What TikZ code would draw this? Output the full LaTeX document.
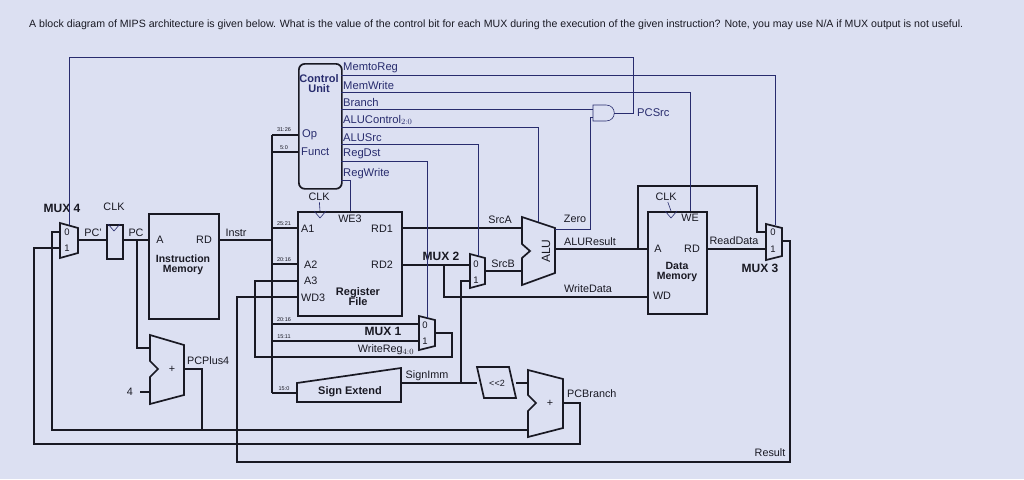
\documentclass[tikz,border=0pt]{standalone}
\usepackage{fontspec}
\setmainfont{Liberation Sans}
\usetikzlibrary{positioning}
\definecolor{paper}{RGB}{220,224,242}
\definecolor{ctrlc}{RGB}{40,44,110}
\definecolor{inkc}{RGB}{25,25,35}
\tikzset{
    bus/.style={line width=1.7pt,draw=inkc},
    ctl/.style={line width=0.6pt,draw=ctrlc},
    blk/.style={rectangle,draw=inkc,line width=1.7pt,inner sep=0pt},
    lbl/.style={font=\fontsize{10.8}{12}\selectfont,text=inkc,inner sep=1pt},
    clbl/.style={font=\fontsize{11.2}{12}\selectfont,text=ctrlc,inner sep=1pt},
    tag/.style={font=\fontsize{5.5}{6}\selectfont,text=inkc,inner sep=0.5pt},
    mux/.style={font=\bfseries\fontsize{12}{13}\selectfont,text=inkc,inner sep=1pt},
}
\begin{document}
\begin{tikzpicture}[x=1pt,y=-1pt]
  \fill[paper] (0,0) rectangle (1024,479);
  \useasboundingbox (0,0) rectangle (1024,479);
  \node[lbl,font=\fontsize{10.6}{12}\selectfont,anchor=west] (title) at (28,25) {A block diagram of MIPS architecture is given below. What is the value of the control bit for each MUX during the execution of the given instruction? Note, you may use N/A if MUX output is not useful.};

  % blocks
  \node[blk,rounded corners=6pt,minimum width=43,minimum height=125,anchor=north west] (cu) at (298,63) {};
  \node[blk,minimum width=70,minimum height=105,anchor=north west] (imem) at (148,213) {};
  \node[blk,minimum width=104,minimum height=104,anchor=north west] (rf) at (297,211) {};
  \node[blk,minimum width=59,minimum height=102,anchor=north west] (dmem) at (647,211) {};
  \node[blk,minimum width=16,minimum height=34,anchor=north west] (pcreg) at (106,224) {};
  \draw[ctl] (108,224) -- (114,231) -- (120,224);
  \draw[ctl] (314,211) -- (320,218) -- (326,211);
  \draw[ctl] (665,211) -- (671,218) -- (677,211);

  % texts of blocks
  \node[lbl,font=\bfseries\fontsize{11}{12}\selectfont,text=ctrlc,align=center] (cut) at (319,84) {Control\\[-2pt]Unit};
  \node[clbl,anchor=west] (op) at (301,135) {Op};
  \node[clbl,anchor=west] (fn) at (300,152) {Funct};
  \node[lbl] (ia) at (160,240) {A};
  \node[lbl] (ird) at (204,240) {RD};
  \node[lbl,font=\bfseries\fontsize{10.5}{11}\selectfont,align=center] (it) at (183,265) {Instruction\\[-1pt]Memory};
  \node[lbl] (wethree) at (350,219) {WE3};
  \node[lbl,anchor=west] (aone) at (300,229) {A1};
  \node[lbl,anchor=west] (atwo) at (303,265) {A2};
  \node[lbl,anchor=west] (athree) at (303,281) {A3};
  \node[lbl,anchor=west] (wdthree) at (300,298) {WD3};
  \node[lbl] (rdone) at (382,229) {RD1};
  \node[lbl] (rdtwo) at (382,265) {RD2};
  \node[lbl,font=\bfseries\fontsize{11}{12}\selectfont,align=center] (rft) at (358,297) {Register\\[-2pt]File};
  \node[lbl] (dwe) at (690,218) {WE};
  \node[lbl] (da) at (658,249) {A};
  \node[lbl] (drd) at (692,249) {RD};
  \node[lbl,font=\bfseries\fontsize{10.5}{11}\selectfont,align=center] (dt) at (677,272) {Data\\[-1pt]Memory};
  \node[lbl] (dwd) at (662,296) {WD};
  \node[lbl] (clka) at (114,207) {CLK};
  \node[lbl] (clkb) at (319,197) {CLK};
  \node[lbl] (clkc) at (666,197) {CLK};
  \draw[ctl] (clkb) -- (320,211) (clkc) -- (671,211);

  % muxes, alu, adders
  \draw[bus] (60,223) -- (78,228) -- (78,253) -- (60,258) -- cycle;
  \draw[bus] (470,254) -- (485,258) -- (485,284) -- (470,288) -- cycle;
  \draw[bus] (419,316) -- (435,320) -- (435,346) -- (419,350) -- cycle;
  \draw[bus] (766,224) -- (782,228) -- (782,256) -- (766,260) -- cycle;
  \draw[bus] (522,217) -- (555,228) -- (555,273) -- (522,285) -- (522,258) -- (530,251) -- (522,244) -- cycle;
  \draw[bus] (150,335) -- (184,345) -- (184,395) -- (150,404) -- (150,377) -- (158,369) -- (150,361) -- cycle;
  \draw[bus] (528,370) -- (563,379) -- (563,428) -- (528,437) -- (528,411) -- (536,403) -- (528,395) -- cycle;
  \draw[bus] (297,383) -- (401,368) -- (401,402) -- (297,402) -- cycle;
  \draw[bus] (477,367) -- (509,367) -- (516,398) -- (484,398) -- cycle;
  \draw[ctl] (593,105) -- (606,105) .. controls (617,105) and (617,121) .. (606,121) -- (593,121) -- cycle;
  \node[lbl,font=\fontsize{12}{13}\selectfont,rotate=90] (alut) at (546,251) {ALU};
  \node[lbl] (plusa) at (172,369) {+};
  \node[lbl] (plusb) at (550,403) {+};
  \node[lbl,font=\bfseries\fontsize{11}{12}\selectfont] (se) at (350,392) {Sign Extend};
  \node[lbl,font=\fontsize{9}{10}\selectfont] (sl) at (497,383) {{<}{<}2};
  \foreach \mx/\ma/\mb in {67/232/248, 476/264/280, 425/325/341, 773/232/249}{
    \node[lbl,font=\fontsize{9.5}{10}\selectfont] at (\mx,\ma) {0};
    \node[lbl,font=\fontsize{9.5}{10}\selectfont] at (\mx,\mb) {1};
  }
  \node[mux] (mfour) at (62,208) {MUX 4};
  \node[mux] (mtwo) at (441,256) {MUX 2};
  \node[mux] (mone) at (383,331) {MUX 1};
  \node[mux] (mthree) at (760,268) {MUX 3};

  % datapath wires
  \draw[bus] (78,240) -- (106,240);
  \draw[bus] (122,240) -- (148,240);
  \draw[bus] (137,240) |- (150,348);
  \draw[bus] (218,240) -- (272,240);
  \draw[bus] (272,135) -- (272,393);
  \foreach \ty/\tx in {135/298, 152/298, 228/297, 264/297, 324/419, 341/419, 393/297}{
    \draw[bus] (272,\ty) -- (\tx,\ty);
  }
  \draw[bus] (140,392) -- (150,392);
  \draw[bus] (184,369) -- (202,369) -- (202,430);
  \draw[bus] (60,232) -- (52,232) -- (52,430) -- (528,430);
  \draw[bus] (563,403) -- (580,403) -- (580,444) -- (34,444) -- (34,248) -- (60,248);
  \draw[bus] (401,228) -- (522,228);
  \draw[bus] (401,265) -- (470,265);
  \draw[bus] (444,265) |- (647,297);
  \draw[bus] (485,271) -- (522,271);
  \draw[bus] (401,383) -- (477,383);
  \draw[bus] (461,383) |- (470,281);
  \draw[bus] (516,383) -- (528,383);
  \draw[bus] (435,333) -- (452,333) -- (452,357) -- (255,357) -- (255,281) -- (297,281);
  \draw[bus] (555,249) -- (647,249);
  \draw[bus] (638,249) -- (638,186) -- (757,186) -- (757,232) -- (766,232);
  \draw[bus] (706,249) -- (766,249);
  \draw[bus] (782,241) -- (790,241) -- (790,462) -- (237,462) -- (237,297) -- (297,297);

  % control wires
  \draw[ctl] (341,75) -- (775,75) -- (775,225);
  \draw[ctl] (341,92) -- (690,92) -- (690,211);
  \draw[ctl] (341,109) -- (593,109);
  \draw[ctl] (341,127) -- (538,127) -- (538,222);
  \draw[ctl] (341,144) -- (478,144) -- (478,256);
  \draw[ctl] (341,161) -- (427,161) -- (427,318);
  \draw[ctl] (341,180) -- (350,180) -- (350,211);
  \draw[ctl] (555,229) -- (590,229) -- (590,117) -- (593,117);
  \draw[ctl] (614,113) -- (633,113) -- (633,57) -- (69,57) -- (69,225);

  % signal labels
  \node[clbl,anchor=south west] (memtoreg) at (342,74) {MemtoReg};
  \node[clbl,anchor=south west] (memwrite) at (342,91) {MemWrite};
  \node[clbl,anchor=south west] (branch) at (342,108) {Branch};
  \node[clbl,anchor=south west] (aluctl) at (342,126) {ALUControl$_{2:0}$};
  \node[clbl,anchor=south west] (alusrc) at (342,143) {ALUSrc};
  \node[clbl,anchor=south west] (regdst) at (342,160) {RegDst};
  \node[clbl,anchor=south west] (regwrite) at (342,180) {RegWrite};
  \node[clbl,anchor=west] (pcsrc) at (636,113) {PCSrc};
  \node[lbl] (pcp) at (93,233) {PC'};
  \node[lbl] (pc) at (136,233) {PC};
  \node[lbl] (instr) at (236,233) {Instr};
  \node[lbl,anchor=west] (pcplus) at (186,361) {PCPlus4};
  \node[lbl] (four) at (130,392) {4};
  \node[lbl] (srca) at (500,220) {SrcA};
  \node[lbl] (srcb) at (503,264) {SrcB};
  \node[lbl] (zero) at (575,219) {Zero};
  \node[lbl] (alures) at (590,242) {ALUResult};
  \node[lbl] (wdata) at (588,289) {WriteData};
  \node[lbl] (rdata) at (734,241) {ReadData};
  \node[lbl] (wreg) at (386,350) {WriteReg$_{4:0}$};
  \node[lbl] (simm) at (427,376) {SignImm};
  \node[lbl,anchor=west] (pcb) at (566,394) {PCBranch};
  \node[lbl] (result) at (770,453) {Result};
  \node[tag] at (284,130) {31:26};
  \node[tag] at (284,148) {5:0};
  \node[tag] at (284,224) {25:21};
  \node[tag] at (284,260) {20:16};
  \node[tag] at (284,320) {20:16};
  \node[tag] at (284,337) {15:11};
  \node[tag] at (284,389) {15:0};
\end{tikzpicture}
\end{document}
